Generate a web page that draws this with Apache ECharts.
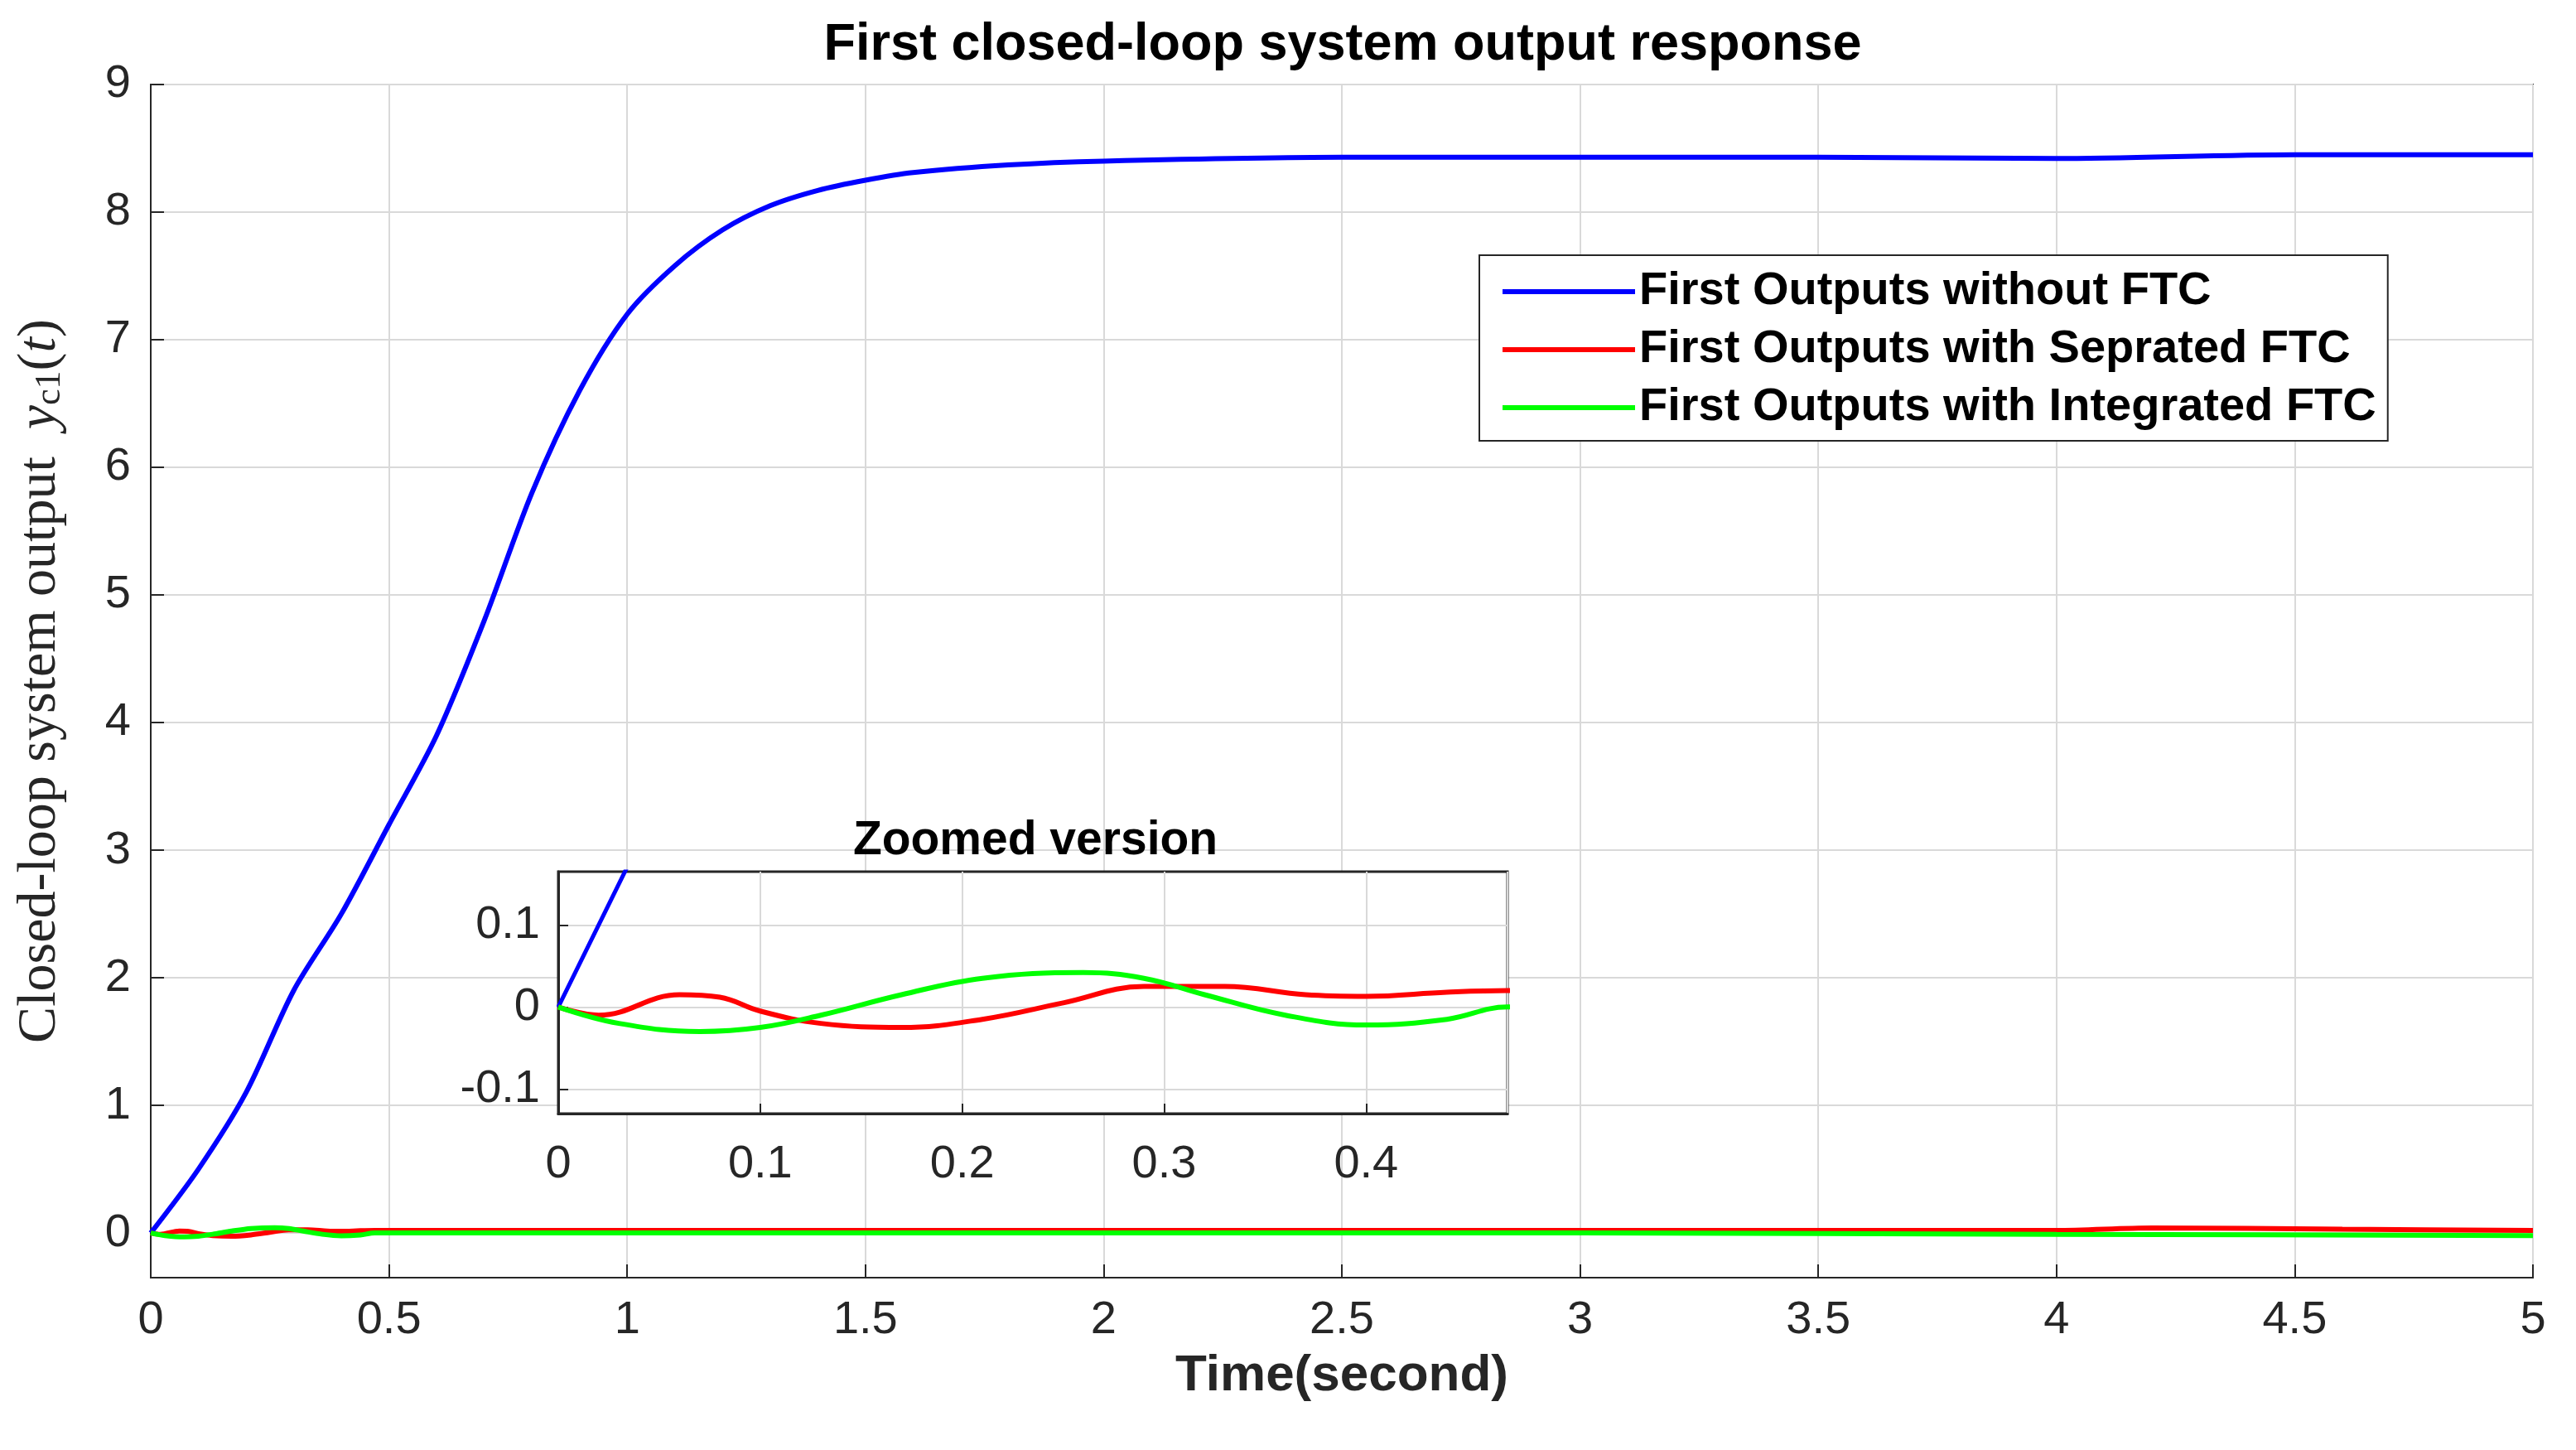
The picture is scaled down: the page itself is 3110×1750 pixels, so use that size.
<!DOCTYPE html>
<html><head><meta charset="utf-8">
<script src="https://cdn.jsdelivr.net/npm/echarts@6/dist/echarts.min.js"></script>
<style>html,body{margin:0;background:#fff}#main{width:3110px;height:1750px}</style>
</head><body><div id="main"></div>
<script>
// 主图数据
var tBlue = [0,0.1,0.2,0.3,0.4,0.5,0.6,0.7,0.8,0.9,1.0,1.1,1.2,1.3,1.4,1.5,1.6,1.8,2.0,2.5,3.0,3.5,4.0,4.5,5.0];
var yBlue = [0,0.5,1.1,1.9,2.5,3.2,3.9,4.8,5.8,6.6,7.2,7.58,7.86,8.05,8.17,8.25,8.31,8.37,8.4,8.43,8.43,8.43,8.42,8.45,8.45];
var tRed = [0,0.02,0.06,0.08,0.1,0.13,0.17,0.21,0.25,0.29,0.33,0.37,0.4,0.44,0.47,0.6,1.0,2.0,3.0,4.0,4.2,4.6,5.0];
var yRed = [0,-0.01,0.015,0.012,-0.005,-0.02,-0.025,-0.015,0.005,0.025,0.025,0.015,0.013,0.018,0.02,0.02,0.02,0.02,0.02,0.02,0.04,0.03,0.02];
var tGreen = [0,0.03,0.07,0.1,0.13,0.17,0.21,0.26,0.29,0.32,0.36,0.4,0.44,0.47,0.6,1.0,2.0,3.0,4.0,5.0];
var yGreen = [0,-0.02,-0.03,-0.025,-0.01,0.015,0.035,0.042,0.035,0.015,-0.01,-0.022,-0.015,0,0,0,0,0,-0.01,-0.02];
var yTicks = [0,1,2,3,4,5,6,7,8,9];
var insetYTicks = [-0.1, 0, 0.1];

function pairs(t, y) { return t.map(function (v, i) { return [v, y[i]]; }); }

var myChart = echarts.init(document.getElementById('main'));
var font = 'Liberation Sans';
var gridLine = { show: true, lineStyle: { color: '#d9d9d9', width: 2 } };
var names = ['First Outputs without FTC', 'First Outputs with Seprated FTC', 'First Outputs with Integrated FTC'];
var colors = ['#0000ff', '#ff0000', '#00ff00'];

var option = {
    animation: false,
    textStyle: { fontFamily: font },
    title: [
        { text: 'First closed-loop system output response', left: 1616, top: 18, textAlign: 'center',
          textStyle: { fontSize: 63, fontWeight: 'bold', color: '#000' } },
        { text: 'Zoomed version', left: 1245, top: 982, textAlign: 'center',
          textStyle: { fontSize: 57, fontWeight: 'bold', color: '#000' } }
    ],
    legend: {
        data: names, orient: 'vertical', left: 1786, top: 308,
        itemWidth: 160, itemHeight: 6, itemGap: 14,
        padding: [16, 14, 12, 28],
        borderColor: '#262626', borderWidth: 2, backgroundColor: '#fff',
        textStyle: { fontSize: 56, fontWeight: 'bold', color: '#000' },
        icon: 'rect'
    },
    grid: [
        { left: 182, right: 52, top: 102, bottom: 208, show: true, borderColor: '#262626', borderWidth: 2 },
        { left: 674, top: 1052, width: 1146, height: 292, show: true, borderColor: '#262626', borderWidth: 3, backgroundColor: '#fff', z: 5 }
    ],
    xAxis: [
        { gridIndex: 0, type: 'value', min: 0, max: 5, interval: 0.5,
          name: 'Time(second)', nameLocation: 'middle', nameGap: 88,
          nameTextStyle: { fontSize: 62, fontWeight: 'bold', color: '#262626' },
          axisLine: { onZero: false, lineStyle: { color: '#262626', width: 2 } },
          axisTick: { inside: true, length: 16, lineStyle: { color: '#262626', width: 2 } },
          axisLabel: { fontSize: 56, color: '#262626', margin: 24 },
          splitLine: gridLine },
        { gridIndex: 1, type: 'value', min: 0, max: 0.47, interval: 0.1, z: 6,
          axisLine: { onZero: false, lineStyle: { color: '#262626', width: 3 } },
          axisTick: { inside: true, length: 12, lineStyle: { color: '#262626', width: 2 } },
          axisLabel: { fontSize: 56, color: '#262626', margin: 34, showMaxLabel: false },
          splitLine: gridLine }
    ],
    yAxis: [
        { gridIndex: 0, type: 'value', min: -0.35, max: 9,
          name: '{n|Closed-loop system output  }{y|y}{s|c1}{n|(}{y|t}{n|)}',
          nameLocation: 'middle', nameGap: 100, nameRotate: 90,
          nameTextStyle: { rich: {
              n: { fontFamily: 'Liberation Serif', fontSize: 66, color: '#262626' },
              y: { fontFamily: 'Liberation Serif', fontStyle: 'italic', fontSize: 66, color: '#262626' },
              s: { fontFamily: 'Liberation Serif', fontSize: 44, color: '#262626', verticalAlign: 'bottom', padding: [18, 0, 0, 0] }
          } },
          axisLine: { onZero: false, lineStyle: { color: '#262626', width: 2 } },
          axisTick: { inside: true, length: 16, customValues: yTicks, lineStyle: { color: '#262626', width: 2 } },
          axisLabel: { fontSize: 56, color: '#262626', margin: 24, customValues: yTicks },
          splitLine: gridLine },
        { gridIndex: 1, type: 'value', min: -0.13, max: 0.165, z: 6,
          axisLine: { onZero: false, lineStyle: { color: '#262626', width: 3 } },
          axisTick: { inside: true, length: 12, customValues: insetYTicks, lineStyle: { color: '#262626', width: 2 } },
          axisLabel: { fontSize: 56, color: '#262626', margin: 22, customValues: insetYTicks,
              formatter: function (v) { return v === 0 ? '0' : String(v); } },
          splitLine: gridLine
        }
    ],
    series: [
        { name: names[0], type: 'line', data: pairs(tBlue, yBlue), smooth: 0.3, showSymbol: false, lineStyle: { color: colors[0], width: 6 }, itemStyle: { color: colors[0] } },
        { name: names[1], type: 'line', data: pairs(tRed, yRed), smooth: 0.3, showSymbol: false, lineStyle: { color: colors[1], width: 6 }, itemStyle: { color: colors[1] } },
        { name: names[2], type: 'line', data: pairs(tGreen, yGreen), smooth: 0.3, showSymbol: false, lineStyle: { color: colors[2], width: 6 }, itemStyle: { color: colors[2] } },
        { type: 'line', xAxisIndex: 1, yAxisIndex: 1, data: pairs(tBlue, yBlue), showSymbol: false, clip: true, z: 7, lineStyle: { color: colors[0], width: 5 } },
        { type: 'line', xAxisIndex: 1, yAxisIndex: 1, data: pairs(tRed, yRed), smooth: 0.4, showSymbol: false, clip: true, z: 7, lineStyle: { color: colors[1], width: 6 } },
        { type: 'line', xAxisIndex: 1, yAxisIndex: 1, data: pairs(tGreen, yGreen), smooth: 0.4, showSymbol: false, clip: true, z: 7, lineStyle: { color: colors[2], width: 6 } }
    ]
};
myChart.setOption(option);
</script></body></html>
